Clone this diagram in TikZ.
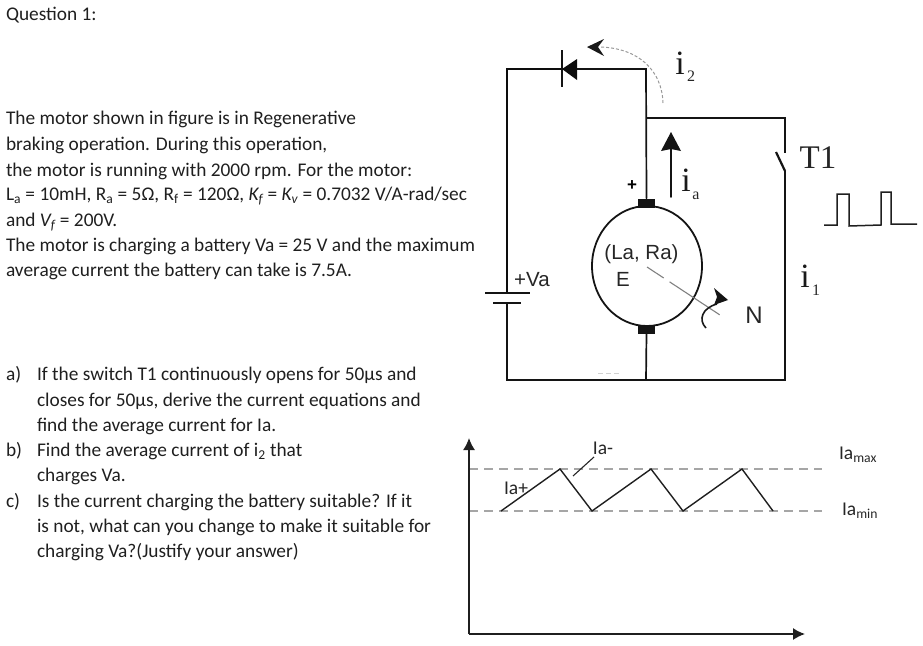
\documentclass[tikz,border=0pt]{standalone}
\usepackage{fontspec}
\setmainfont{Carlito}
\newfontfamily\arialf{Liberation Sans}
\newfontfamily\timesf{Liberation Serif}
\usetikzlibrary{arrows.meta,shapes.geometric}
\newcommand{\lowsub}[1]{\textsubscript{#1}}
\tikzset{
  txt/.style={anchor=base west,inner sep=0pt,outer sep=0pt,font=\fontsize{19.35}{22}\selectfont,text=black!88},
  lab/.style={inner sep=0pt,outer sep=0pt,font=\arialf\fontsize{20.5}{22}\selectfont,text=black!85},
  glab/.style={inner sep=0pt,outer sep=0pt,font=\fontsize{19.5}{22}\selectfont,text=black!85},
  cur/.style={inner sep=0pt,outer sep=0pt,font=\timesf\fontsize{34}{36}\selectfont,text=black!90},
  csub/.style={inner sep=0pt,outer sep=0pt,font=\timesf\fontsize{16}{18}\selectfont,text=black!85},
  wire/.style={draw=black!92,line width=1.7pt,line cap=round,line join=miter},
  thin wire/.style={draw=black!92,line width=1.4pt,line join=miter},
  thick wire/.style={draw=black!95,line width=2.2pt,line join=miter},
  brush/.style={fill=black!92,draw=none},
  gline/.style={draw=black!88,line width=1.4pt,line join=miter},
  dashline/.style={draw=black!35,line width=1.1pt,dash pattern=on 9pt off 6pt},
  axis/.style={draw=black!88,line width=1.5pt,-{Latex[length=12pt,width=12pt]}},
}
\begin{document}
\begin{tikzpicture}[x=1pt,y=-1pt]
\useasboundingbox (0,0) rectangle (923,645);
% ---------- text
\node[txt] (q1) at (6,20) {Question 1:};
\node[txt] (t1) at (6,124) {The motor shown in figure is in Regenerative};
\node[txt] (t2) at (6,150) {braking operation. During this operation,};
\node[txt] (t3) at (6,176) {the motor is running with 2000 rpm. For the motor:};
\node[txt] (t4) at (6,200.5) {L\lowsub{a} = 10mH, R\lowsub{a} = 5Ω, R\lowsub{f} = 120Ω, \textit{K\lowsub{f}} = \textit{K\lowsub{v}} = 0.7032 V/A-rad/sec};
\node[txt] (t5) at (6,226) {and \textit{V\lowsub{f}} = 200V.};
\node[txt] (t6) at (6,251) {The motor is charging a battery Va = 25 V and the maximum};
\node[txt] (t7) at (6,276) {average current the battery can take is 7.5A.};
\node[txt] (a0) at (6,380) {a)};
\node[txt] (a1) at (37,380) {If the switch T1 continuously opens for 50µs and};
\node[txt] (a2) at (37,406) {closes for 50µs, derive the current equations and};
\node[txt] (a3) at (37,431) {find the average current for Ia.};
\node[txt] (b0) at (6,456) {b)};
\node[txt] (b1) at (37,456) {Find the average current of i\lowsub{2} that};
\node[txt] (b2) at (37,481) {charges Va.};
\node[txt] (c0) at (6,507) {c)};
\node[txt] (c1) at (37,507) {Is the current charging the battery suitable? If it};
\node[txt] (c2) at (37,532) {is not, what can you change to make it suitable for};
\node[txt] (c3) at (37,557) {charging Va?(Justify your answer)};
% ---------- circuit
\node[draw=black!92,line width=1.8pt,ellipse,minimum width=110pt,minimum height=120pt,inner sep=0pt] (motor) at (647,266) {};
\node[brush,minimum width=17pt,minimum height=9pt,inner sep=0pt] (btop) at (646.5,203) {};
\node[brush,minimum width=17pt,minimum height=8pt,inner sep=0pt] (bbot) at (646.5,329.5) {};
\coordinate (tl) at (507,69);
\coordinate (tr) at (646,69);
\coordinate (junc) at (646,118);
\coordinate (rt) at (785,118);
\coordinate (swa) at (785,153);
\coordinate (swb) at (785,171);
\coordinate (swc) at (776,152);
\coordinate (bl) at (507,380);
\coordinate (bm) at (646,380);
\coordinate (br) at (785,380);
\coordinate (plA) at (507,293);
\coordinate (plB) at (507,303);
\coordinate (diode) at (562,69);
\draw[thick wire] (plA) -- (tl) -- (diode);
\draw[wire] (diode) -- (tr) -- (btop.north);
\draw[wire] (bbot.south) -- (bm);
\draw[wire] (plB) -- (bl) -- (bm);
\draw[wire] (bm) -- (br) -- (swb);
\draw[thin wire] (junc) -- (rt) -- (swa);
\draw[draw=black!92,line width=2.2pt] (swb) -- (swc);
% battery
\draw[draw=black!92,line width=1.8pt] (485,293) -- (530,293);
\draw[draw=black!92,line width=1.8pt] (493,303) -- (521,303);
% diode
\draw[draw=black!92,line width=1.8pt] (562,50) -- (562,87);
\fill[black!95] (diode) -- (577,59) -- (577,80) -- cycle;
% i_a arrow
\coordinate (iaS) at (671,197);
\coordinate (iaE) at (671,132);
\draw[wire] (iaS) -- (671,148);
\fill[black!92] (iaE) -- (681,151) -- (671,149) -- (661,151) -- cycle;
% i2 dashed arrow
\coordinate (i2S) at (663,103);
\coordinate (i2E) at (600,47);
\draw[draw=black!40,line width=1pt,dash pattern=on 3pt off 2pt] (i2S) .. controls (662,70) and (638,48) .. (i2E);
\fill[black!90] (587,47) -- (604,39) -- (598,47) -- (604,56) -- cycle;
% rotor line and rotation arrow
\coordinate (rotA) at (647,267);
\coordinate (rotB) at (723,317);
\draw[draw=black!50,line width=1.1pt,dash pattern=on 20pt off 7pt on 60pt] (rotA) -- (rotB);
\draw[draw=black!90,line width=1.6pt] (706,328) .. controls (698,320) and (702,308) .. (717,304);
\fill[black!92] (728,300) -- (714,288) -- (717,297) -- (714,305) -- cycle;
\draw[draw=black!18,line width=0.8pt,dash pattern=on 5pt off 3pt] (598,373) -- (621,373);
% circuit labels
\node[lab] (lara) at (641.5,254) {(La, Ra)};
\node[lab] (e) at (623,279) {E};
\node[lab] (va) at (532,280) {+Va};
\node[lab,font=\arialf\fontsize{24}{26}\selectfont] (n) at (754,315) {N};
\node[inner sep=0pt,font=\bfseries\arialf\fontsize{17}{18}\selectfont] (plus) at (632,186) {+};
\node[cur] (i2) at (680,63) {i};
\node[csub] (i2s) at (691,76) {2};
\node[cur] (ia) at (686,180) {i};
\node[csub] (ias) at (696,196) {a};
\node[cur] (i1) at (805,276) {i};
\node[csub] (i1s) at (816,290) {1};
\node[inner sep=0pt,font=\timesf\fontsize{33}{36}\selectfont,text=black!85] (t1lab) at (818,158) {T1};
\draw[draw=black!88,line width=1.5pt] (824,225) -- (837,225) -- (837,194) -- (849,194) -- (849,226) -- (881,225) -- (881,192) -- (891,192) -- (891,224) -- (917,224);
% ---------- graph
\coordinate (org) at (469,634);
\coordinate (ytip) at (469,438);
\coordinate (xtip) at (805,634);
\draw[dashline] (469,469) -- (822,469);
\draw[dashline] (469,511) -- (822,511);
\draw[axis] (org) -- (ytip);
\draw[axis] (org) -- (xtip);
\draw[gline] (501,511) -- (560,469) -- (592,511) -- (651,469) -- (683,511) -- (742,469) -- (773,511);
\node[glab] (iam) at (603,448) {Ia-};
\node[glab] (iap) at (516,488) {Ia+};
\coordinate (leadA) at (573,476);
\coordinate (leadB) at (594,457);
\draw[draw=black!85,line width=1.1pt] (leadA) -- (leadB);
\node[glab] (iamax) at (858,455) {Ia\textsubscript{max}};
\node[glab] (iamin) at (860,511) {Ia\textsubscript{min}};
\end{tikzpicture}
\end{document}
